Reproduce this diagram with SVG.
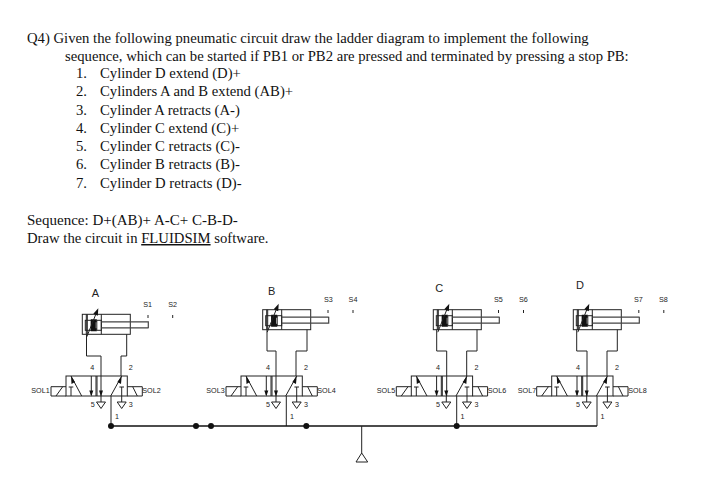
<svg xmlns="http://www.w3.org/2000/svg" xmlns:xlink="http://www.w3.org/1999/xlink" width="702" height="486" viewBox="0 0 702 486">
<style>
text{font-family:"Liberation Sans",Arial,sans-serif;fill:#222}
.q{font-family:"Liberation Serif","Times New Roman",serif;font-size:14.7px;fill:#111}
.s{font-size:7.2px;text-anchor:middle}
.l{font-size:7.2px;text-anchor:middle}
.n{font-size:11px;text-anchor:middle}
.ln{fill:none;stroke:#222;stroke-width:1}
.bl{fill:#111;stroke:none}
</style>
<defs>
<g id="cyl">
<rect class="ln" x="0" y="0" width="48" height="20"/>
<path class="ln" d="M4 0V20M5 0V20M19 0V20"/>
<rect class="ln" x="3" y="6" width="6" height="10"/>
<path class="bl" d="M8.5 5H14.5V8H13.5V14H14.5V17H8.5Z"/>
<rect class="ln" x="14.5" y="6" width="4.5" height="10"/>
<path d="M19 7.5H66M19 13.5H66M66 7V14" fill="none" stroke="#444" stroke-width="1.2"/>
<path class="ln" d="M4.5 22.5L13.5 0"/>
<path class="bl" d="M16 -6L15.5 1.5L11 -0.5Z"/>
</g>
<g id="valve">
<rect class="ln" x="0" y="0" width="61.3" height="20"/>
<path class="ln" d="M30 0V20M31 0V20M-15 10.7H0M-15 20H0M-15 10.7V20M-10 20L-3.3 10.7M61.3 10.7H76.3M61.3 20H76.3M76.3 10.7V20M66.7 10.7L71.3 20"/>
<path class="ln" d="M5 0L15.7 20M55.7 0L44.7 20M25.3 0V19M5 20V11M2.7 11H7.3M55.7 20V11M53.4 11H58"/>
<path class="bl" d="M5 0L9 6L5.5 8Z"/>
<path class="bl" d="M55.7 0L55 8L51.4 6Z"/>
<path class="bl" d="M25.3 20.5L23.3 14.5H27.3Z"/>
<path class="bl" d="M35 20.5L33 14.5H37Z"/>
<path class="ln" d="M35 20V26M30.5 26H39.5L35 32.5ZM55.7 20V26M51.2 26H60.2L55.7 32.5Z"/>
</g>
</defs>

<g id="question">
<text class="q" x="27" y="43">Q4) Given the following pneumatic circuit draw the ladder diagram to implement the following</text>
<text class="q" x="65" y="61">sequence, which can be started if PB1 or PB2 are pressed and terminated by pressing a stop PB:</text>
<text class="q" x="76" y="78">1.</text><text class="q" x="100" y="78">Cylinder D extend (D)+</text>
<text class="q" x="76" y="96">2.</text><text class="q" x="100" y="96">Cylinders A and B extend (AB)+</text>
<text class="q" x="76" y="115">3.</text><text class="q" x="100" y="115">Cylinder A retracts (A-)</text>
<text class="q" x="76" y="133">4.</text><text class="q" x="100" y="133">Cylinder C extend (C)+</text>
<text class="q" x="76" y="151">5.</text><text class="q" x="100" y="151">Cylinder C retracts (C)-</text>
<text class="q" x="76" y="169">6.</text><text class="q" x="100" y="169">Cylinder B retracts (B)-</text>
<text class="q" x="76" y="188">7.</text><text class="q" x="100" y="188">Cylinder D retracts (D)-</text>
<text class="q" x="27" y="225" style="font-size:15px">Sequence: D+(AB)+ A-C+ C-B-D-</text>
<text class="q" x="27" y="243">Draw the circuit in <tspan text-decoration="underline">FLUIDSIM</tspan> software.</text>
</g>

<g id="connectors">
<path class="ln" d="M86.5 334.3V356H101V396M126.7 334.3V356H121V376"/>
<path class="ln" d="M267 329.7V351H276V396M307 329.7V351H296V376"/>
<path class="ln" d="M436.7 329.7V351H446.7V396M477 329.7V351H466.7V376"/>
<path class="ln" d="M576.7 329.7V351H587V396M617.3 329.7V351H607V376"/>
<path class="ln" d="M111 396V426M286.3 396V426M456.7 396V426M597 396V426"/>
<path d="M111 426H597" fill="none" stroke="#111" stroke-width="1.3"/>
<path class="ln" d="M361.7 426V453"/>
<circle class="bl" cx="111" cy="426" r="3"/>
<circle class="bl" cx="196" cy="426" r="3"/>
<circle class="bl" cx="211" cy="426" r="3"/>
<circle class="bl" cx="306.3" cy="426" r="3"/>
<circle class="bl" cx="456.7" cy="426" r="3"/>
</g>

<g id="supply">
<path class="ln" d="M361.7 453L356 462H367.7Z"/>
</g>

<g id="cylinder-a">
<use href="#cyl" x="82.3" y="314.3"/>
<text class="n" x="95.3" y="297">A</text>
</g>
<g id="switches-a">
<text class="s" x="147.7" y="306.5">S1</text><text class="s" x="172.7" y="306.5">S2</text>
<path class="ln" d="M148 315V318M172.7 315V318"/>
</g>
<g id="valve-a">
<use href="#valve" x="66" y="376"/>
<text class="l" x="40.5" y="392.5">SOL1</text><text class="l" x="151.5" y="392.5">SOL2</text>
<text class="l" x="92.3" y="369.5">4</text><text class="l" x="130.7" y="369.5">2</text>
<text class="l" x="92.7" y="406.5">5</text><text class="l" x="130.7" y="406.5">3</text>
<text class="l" x="117" y="418.5">1</text>
</g>

<g id="cylinder-b">
<use href="#cyl" x="262.7" y="309.7"/>
<text class="n" x="271.7" y="295">B</text>
</g>
<g id="switches-b">
<text class="s" x="328.3" y="302">S3</text><text class="s" x="353" y="302">S4</text>
<path class="ln" d="M328 310V313M353 310V313"/>
</g>
<g id="valve-b">
<use href="#valve" x="241" y="376"/>
<text class="l" x="215.5" y="392.5">SOL3</text><text class="l" x="326.5" y="392.5">SOL4</text>
<text class="l" x="268" y="369.5">4</text><text class="l" x="306" y="369.5">2</text>
<text class="l" x="268" y="406.5">5</text><text class="l" x="306" y="406.5">3</text>
<text class="l" x="292" y="418.5">1</text>
</g>

<g id="cylinder-c">
<use href="#cyl" x="433.3" y="309.7"/>
<text class="n" x="439.3" y="292">C</text>
</g>
<g id="switches-c">
<text class="s" x="498.3" y="302">S5</text><text class="s" x="523.3" y="302">S6</text>
<path class="ln" d="M498.5 310V313M523.5 310V313"/>
</g>
<g id="valve-c">
<use href="#valve" x="411.3" y="376"/>
<text class="l" x="386" y="392.5">SOL5</text><text class="l" x="497" y="392.5">SOL6</text>
<text class="l" x="438" y="369.5">4</text><text class="l" x="476.5" y="369.5">2</text>
<text class="l" x="438" y="406.5">5</text><text class="l" x="476.5" y="406.5">3</text>
<text class="l" x="462.5" y="418.5">1</text>
</g>

<g id="cylinder-d">
<use href="#cyl" x="573.3" y="309.7"/>
<text class="n" x="580" y="289">D</text>
</g>
<g id="switches-d">
<text class="s" x="638.3" y="302">S7</text><text class="s" x="663.3" y="302">S8</text>
<path class="ln" d="M638.8 310V313M663.8 310V313"/>
</g>
<g id="valve-d">
<use href="#valve" x="551.7" y="376"/>
<text class="l" x="527" y="392.5">SOL7</text><text class="l" x="637.5" y="392.5">SOL8</text>
<text class="l" x="578" y="369.5">4</text><text class="l" x="617" y="369.5">2</text>
<text class="l" x="578" y="406.5">5</text><text class="l" x="617" y="406.5">3</text>
<text class="l" x="602.5" y="418.5">1</text>
</g>
</svg>
